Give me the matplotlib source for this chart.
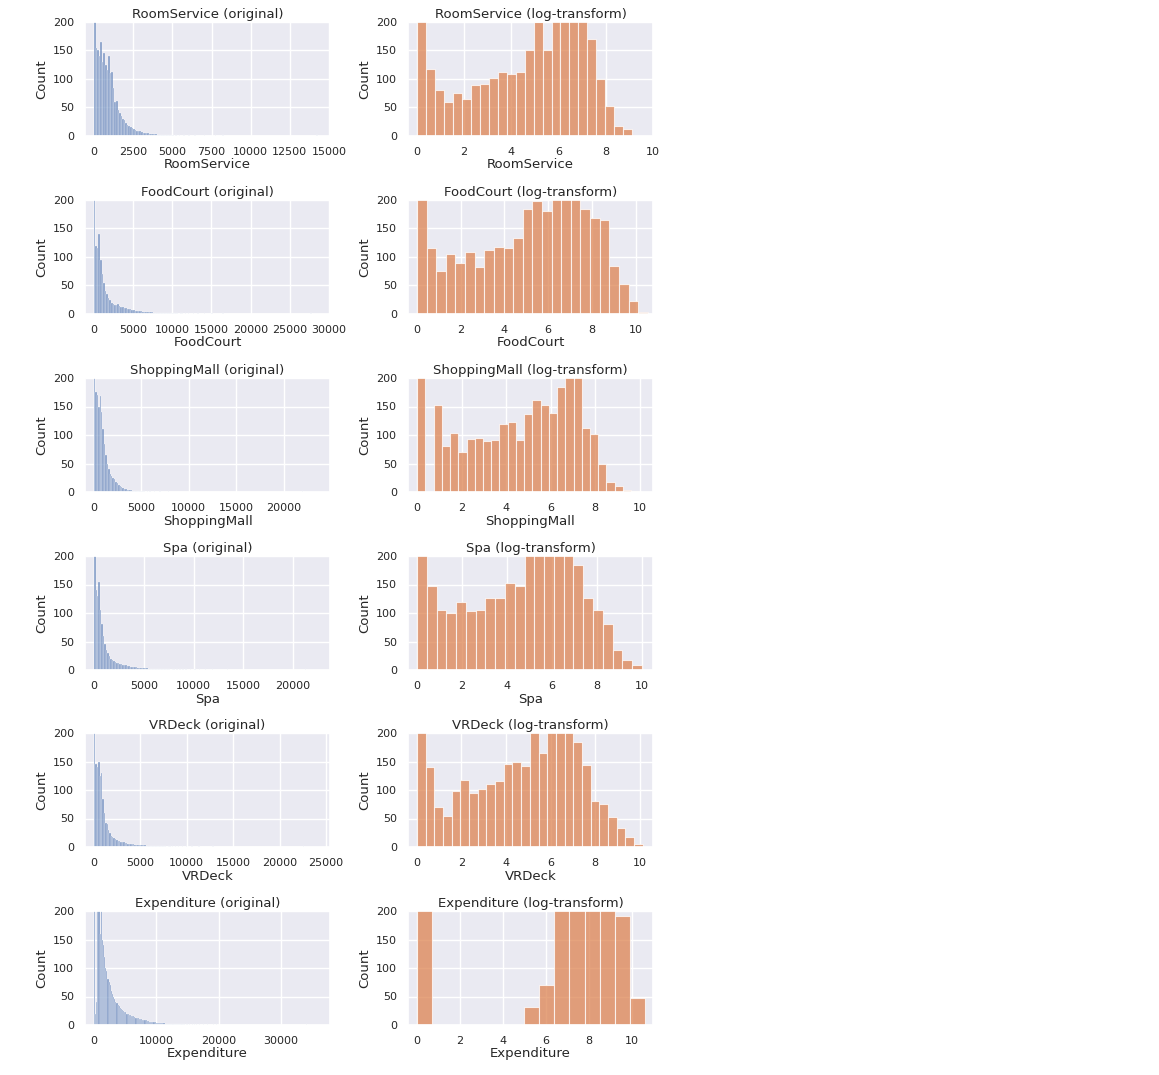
import numpy as np
import matplotlib
matplotlib.use("Agg")
import matplotlib.pyplot as plt
import seaborn as sns

sns.set_theme(style="darkgrid")
plt.rcParams['font.family'] = ['DejaVu Sans']

features = ["RoomService", "FoodCourt", "ShoppingMall", "Spa", "VRDeck", "Expenditure"]

# Original histograms: bin width and counts (clipped at 200 view)
orig_binw = [100, 200, 150, 150, 150, 180]
orig_counts = [
    [1200, 155, 150, 140, 165, 130, 145, 125, 115, 140, 110, 112, 85, 60, 62, 45, 40, 35, 30, 28,
     22, 20, 18, 15, 14, 12, 10, 9, 9, 8, 7, 6, 6, 5, 5, 4, 4, 3, 3, 3, 2, 2, 2, 2, 1, 1, 1, 1, 1, 1,
     1, 0, 1, 0, 1, 0, 0, 1, 0, 0, 1, 0, 0, 0, 1, 0, 0, 0, 0, 0, 1, 0, 0, 0, 0, 0, 0, 1, 0, 0,
     0, 0, 1, 0, 0, 0, 0, 0, 0, 0, 0, 0, 0, 0, 0, 0, 0, 0, 0, 0, 0, 0, 0, 0, 0, 0, 0, 0, 0, 0,
     0, 0, 0, 0, 0, 0, 0, 0, 0, 0, 0, 0, 0, 0, 0, 0, 0, 0, 0, 0, 0, 0, 0, 0, 0, 0, 0, 0, 0, 0, 0, 0, 1],
    [1500, 120, 115, 140, 95, 70, 55, 40, 35, 28, 25, 20, 18, 16, 15, 18, 14, 12, 12, 10, 10, 9, 8, 8, 7,
     7, 6, 6, 5, 5, 5, 4, 4, 4, 3, 3, 3, 3, 2, 2, 2, 2, 2, 2, 1, 1, 1, 2, 1, 1, 1, 1, 1, 1, 0, 1, 1, 0, 1, 0,
     1, 0, 0, 1, 0, 0, 1, 0, 0, 0, 1, 0, 0, 0, 0, 1, 0, 0, 0, 0, 0, 0, 1, 0, 0, 0, 0, 0, 0, 0,
     0, 0, 0, 0, 0, 0, 0, 0, 0, 0, 0, 0, 0, 0, 0, 0, 0, 0, 0, 0, 0, 0, 0, 0, 0, 0, 0, 0, 0, 0,
     0, 0, 0, 0, 0, 0, 0, 0, 0, 0, 0, 0, 0, 0, 0, 0, 0, 0, 1],
    [1600, 175, 170, 150, 168, 140, 110, 85, 65, 50, 40, 32, 28, 25, 22, 18, 15, 12, 10, 8, 7, 6, 5, 4, 4,
     3, 3, 2, 2, 2, 2, 1, 1, 1, 1, 1, 0, 1, 0, 1, 0, 0, 1, 0, 0, 0, 1, 0, 0, 0, 0, 0, 1, 0, 0, 0, 0, 0, 0, 0,
     0, 0, 0, 0, 0, 0, 0, 0, 0, 0, 0, 0, 0, 0, 0, 0, 0, 0, 0, 0, 0, 0, 0, 0, 0, 0, 0, 0, 0, 0,
     0, 0, 0, 0, 0, 0, 0, 0, 0, 0, 0, 0, 0, 0, 0, 0, 0, 0, 0, 0, 0, 0, 0, 0, 0, 0, 0, 0, 0, 0,
     0, 0, 0, 0, 0, 0, 0, 0, 0, 0, 0, 0, 0, 0, 0, 0, 0, 0, 0, 0, 0, 0, 0, 0, 0, 0, 1],
    [1500, 140, 130, 155, 105, 80, 60, 45, 35, 30, 25, 20, 18, 15, 14, 12, 12, 10, 10, 9, 8, 8, 7, 7, 6,
     6, 5, 5, 5, 4, 4, 4, 3, 3, 3, 3, 2, 2, 2, 2, 2, 2, 1, 1, 1, 1, 1, 1, 1, 1, 1, 0, 1, 1, 0, 1, 0, 1, 0, 1,
     0, 1, 0, 0, 1, 0, 0, 1, 0, 0, 1, 0, 0, 0, 1, 0, 0, 0, 0, 1, 0, 0, 0, 0, 0, 0, 0, 0, 0, 1,
     0, 0, 0, 0, 0, 0, 0, 0, 0, 0, 0, 0, 0, 0, 0, 0, 0, 0, 0, 0, 0, 0, 0, 0, 0, 0, 0, 0, 0, 0,
     0, 0, 0, 0, 0, 0, 0, 0, 0, 0, 0, 0, 0, 0, 0, 0, 0, 0, 0, 0, 0, 1],
    [1600, 145, 140, 150, 125, 130, 85, 60, 42, 40, 30, 25, 20, 18, 15, 14, 12, 11, 10, 9, 9, 8, 7, 7, 6,
     6, 5, 5, 5, 4, 4, 4, 3, 3, 3, 3, 3, 2, 2, 2, 2, 2, 2, 1, 1, 1, 1, 1, 1, 1, 1, 1, 0, 1, 1, 0, 1, 0, 1, 0,
     1, 0, 0, 1, 0, 0, 1, 0, 0, 0, 1, 0, 0, 0, 0, 1, 0, 0, 0, 0, 0, 0, 0, 0, 0, 1, 0, 0, 0, 0,
     0, 0, 0, 0, 0, 0, 0, 0, 0, 0, 0, 0, 0, 0, 0, 0, 0, 0, 0, 0, 0, 0, 0, 0, 0, 0, 0, 0, 0, 0,
     0, 0, 0, 0, 0, 0, 0, 0, 0, 0, 0, 0, 0, 0, 0, 0, 0, 0, 0, 0, 0, 0, 0, 0, 0, 0, 0, 0, 0, 0, 1],
    [2500, 20, 40, 230, 260, 160, 200, 150, 140, 120, 100, 95, 80, 75, 70, 60, 55, 50, 45, 40, 38, 35, 33,
     30, 28, 27, 25, 23, 22, 20, 19, 18, 17, 16, 15, 15, 14, 13, 12, 12, 11, 10, 10, 9, 9, 8, 8, 7, 7, 6,
     6, 6, 5, 5, 5, 4, 4, 4, 3, 3, 3, 3, 3, 2, 2, 2, 2, 2, 2, 2, 1, 1, 1, 1, 1, 1, 1, 1, 1, 1,
     1, 0, 1, 1, 0, 1, 0, 1, 0, 1, 0, 1, 0, 0, 1, 0, 0, 1, 0, 0, 0, 1, 0, 0, 0, 0, 1, 0, 0, 1,
     0, 0, 0, 0, 0, 0, 0, 0, 0, 0, 0, 0, 0, 0, 0, 0, 0, 0, 0, 0, 0, 0, 0, 0, 0, 0, 0, 0, 0, 0,
     0, 0, 0, 0, 0, 0, 0, 0, 0, 0, 0, 0, 0, 0, 0, 0, 0, 0, 0, 0, 0, 0, 0, 0, 0, 0, 0, 0, 0, 0,
     0, 0, 0, 0, 0, 0, 0, 0, 0, 0, 0, 0, 0, 0, 0, 0, 0, 0, 0, 1],
]
orig_xlim = [(-577, 15064), (-1110, 30120), (-942, 24900), (-905, 23700), (-970, 25430), (-1444, 37900)]
orig_ticks = [
    [0, 2500, 5000, 7500, 10000, 12500, 15000],
    [0, 5000, 10000, 15000, 20000, 25000, 30000],
    [0, 5000, 10000, 15000, 20000],
    [0, 5000, 10000, 15000, 20000],
    [0, 5000, 10000, 15000, 20000, 25000],
    [0, 10000, 20000, 30000],
]

# Log-transform histograms
log_binw = [0.38, 0.44, 0.37, 0.435, 0.39, 0.71]
log_counts = [
    [700, 117, 80, 60, 75, 65, 90, 92, 102, 113, 109, 113, 150, 200, 150, 210, 210, 210, 210, 170, 100, 53, 18, 13],
    [700, 115, 75, 105, 90, 108, 82, 113, 118, 115, 133, 185, 198, 180, 210, 210, 210, 185, 168, 165, 84, 52, 22, 3],
    [700, 0, 153, 80, 103, 70, 93, 94, 90, 92, 120, 122, 92, 137, 162, 152, 138, 185, 210, 210, 113, 102, 50, 17, 10, 3, 1],
    [700, 147, 106, 100, 120, 103, 105, 127, 127, 153, 148, 210, 210, 210, 210, 210, 185, 127, 105, 80, 35, 17, 8],
    [700, 140, 70, 55, 98, 117, 95, 102, 110, 115, 145, 150, 142, 210, 165, 210, 210, 210, 185, 143, 80, 76, 52, 34, 17, 5],
    [3000, 0, 0, 0, 0, 0, 0, 32, 70, 600, 900, 800, 400, 192, 47],
]
log_xlim = [(-0.38, 10.0), (-0.41, 10.8), (-0.41, 10.6), (-0.40, 10.5), (-0.40, 10.6), (-0.42, 11.0)]

W, H = 1159, 1075
fig = plt.figure(figsize=(W / 100, H / 100), dpi=100)

row_tops = [22, 200, 378, 556, 733, 911]
ax_h = 114
col_lefts = [85, 408]
ax_w = 245

blue = "#4c72b0"
orange = "#dd8452"

for i, feat in enumerate(features):
    top = row_tops[i]
    for j in range(2):
        left = col_lefts[j]
        ax = fig.add_axes([left / W, 1 - (top + ax_h) / H, ax_w / W, ax_h / H])
        if j == 0:
            c = np.array(orig_counts[i], dtype=float)
            bw = orig_binw[i]
            edges = np.arange(len(c)) * bw
            ax.bar(edges, c, width=bw, align='edge', color=blue, alpha=0.65,
                   edgecolor='white', linewidth=0.3)
            ax.set_xlim(*orig_xlim[i])
            ax.set_xticks(orig_ticks[i])
            ax.set_title(f"{feat} (original)", fontsize=9.5, pad=3)
        else:
            c = np.array(log_counts[i], dtype=float)
            bw = log_binw[i]
            edges = np.arange(len(c)) * bw
            ax.bar(edges, c, width=bw, align='edge', color=orange, alpha=0.75,
                   edgecolor='white', linewidth=0.8)
            ax.set_xlim(*log_xlim[i])
            ax.set_xticks([0, 2, 4, 6, 8, 10])
            ax.set_title(f"{feat} (log-transform)", fontsize=9.5, pad=3)
        ax.set_ylim(0, 200)
        ax.set_yticks([0, 50, 100, 150, 200])
        ax.set_ylabel("Count", fontsize=9.5, labelpad=3)
        ax.set_xlabel(feat, fontsize=9.5, labelpad=1)
        ax.tick_params(labelsize=8, pad=2)

fig.savefig("out.png", dpi=100)
